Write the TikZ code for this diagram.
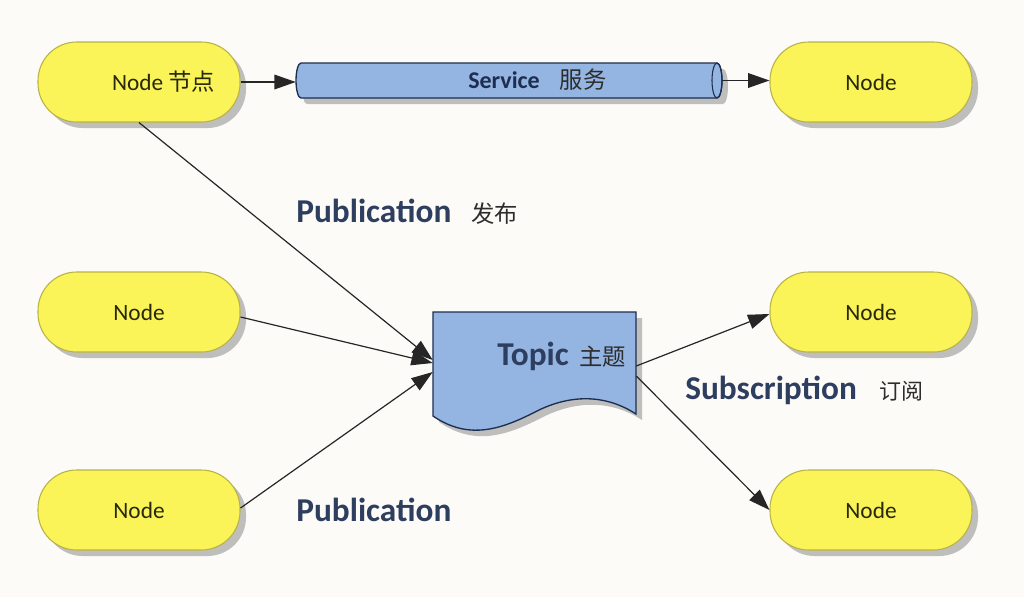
\documentclass[tikz,border=0pt]{standalone}
\usepackage{fontspec}
\setmainfont{Carlito}
\newfontfamily\cjk{Noto Sans CJK SC}
\usetikzlibrary{shadows,arrows.meta,calc}
\definecolor{bgc}{RGB}{253,251,248}
\definecolor{yfill}{RGB}{250,244,88}
\definecolor{ydraw}{RGB}{185,178,70}
\definecolor{bfill}{RGB}{148,180,226}
\definecolor{bdraw}{RGB}{30,45,80}
\definecolor{lblc}{RGB}{45,62,95}
\definecolor{cjkc}{RGB}{45,45,45}
\definecolor{ntxt}{RGB}{40,40,10}
\begin{document}
\begin{tikzpicture}[x=0.75pt,y=-0.75pt,
  shad/.style={drop shadow={shadow xshift=4.5pt,shadow yshift=-4.5pt,fill=black!45,opacity=0.55}},
  nodebox/.style={draw=ydraw,line width=0.8pt,fill=yfill,rounded corners=29pt,
    minimum width=151.5pt,minimum height=60pt,inner sep=0pt,shad,
    font=\fontsize{17.5}{17.5}\selectfont,text=ntxt},
  lbl/.style={anchor=west,inner sep=0pt,font=\bfseries\fontsize{25}{25}\selectfont,text=lblc},
  conn/.style={line width=0.9pt,draw=black!85,-{Triangle[length=16pt,width=11pt]}},
  ghost/.style={inner sep=0pt,draw=none}]
\useasboundingbox[fill=bgc] (0,0) rectangle (1024,597);

% Service cylinder
\path[fill=bfill,draw=bdraw,line width=1pt,shad] (301,63) -- (717,63)
  arc[start angle=90,end angle=-90,x radius=3.75pt,y radius=13.125pt]
  -- (301,98) arc[start angle=270,end angle=90,x radius=3.75pt,y radius=13.125pt] -- cycle;
\draw[bdraw,line width=0.8pt] (717,80.5) ellipse[x radius=3.75pt,y radius=13.125pt];
\node[ghost,minimum width=319.5pt,minimum height=26.25pt] (service) at (509,80.5) {};
\node[ghost,anchor=west] (servicetxt) at (468,80)
  {\bfseries\fontsize{18}{18}\selectfont\color{bdraw}Service\hspace{15pt}{\cjk\mdseries\fontsize{17.5}{17.5}\selectfont\color{cjkc}服务}};

% Topic document shape
\path[fill=bfill,draw=bdraw,line width=1pt,shad]
  (433,312) -- (636,312) -- (636,414)
  .. controls (605,394) and (570,394) .. (535,412)
  .. controls (500,430) and (468,440) .. (433,416) -- cycle;
\node[ghost,minimum width=152.25pt,minimum height=90pt] (topic) at (534.5,372) {};
\node[lbl] (topictxt) at (497,356) {Topic\hspace{8pt}{\cjk\mdseries\fontsize{17.5}{17.5}\selectfont\color{cjkc}主题}};

% Nodes
\node[nodebox] (n1) at (139,82) {\hspace*{37pt}Node {\cjk\fontsize{17.5}{17.5}\selectfont 节点}};
\node[nodebox] (n2) at (871,82) {Node};
\node[nodebox] (n3) at (139,312) {Node};
\node[nodebox] (n4) at (139,510) {Node};
\node[nodebox] (n5) at (871,312) {Node};
\node[nodebox] (n6) at (871,510) {Node};

% Labels
\node[lbl] (pub1) at (296,212) {Publication\hspace{15pt}{\cjk\mdseries\fontsize{17.5}{17.5}\selectfont\color{cjkc}发布}};
\node[lbl] (pub2) at (296,510) {Publication};
\node[lbl] (sub) at (685,390) {Subscription\hspace{17pt}{\cjk\mdseries\fontsize{16.5}{16.5}\selectfont\color{cjkc}订阅}};

% Connector coordinates
\coordinate (tA) at ($(topic.west)+(0,-12)$);
\coordinate (tB) at ($(topic.west)+(0,-9)$);
\coordinate (tC) at ($(topic.west)+(0,0)$);
\coordinate (tD) at ($(topic.east)+(0,-6)$);
\coordinate (tE) at ($(topic.east)+(0,4)$);
\coordinate (sE) at ($(service.east)+(0,0)$);

% Connectors
\draw[conn] (n1.east) -- (n1.east -| service.west);
\draw[conn] (sE) -- (sE -| n2.west);
\draw[conn] (n1.south) -- (tA);
\draw[conn] ($(n3.east)+(0,5)$) -- (tB);
\draw[conn] ($(n4.east)+(0,-2)$) -- (tC);
\draw[conn] (tD) -- ($(n5.west)+(0,2)$);
\draw[conn] (tE) -- (n6.west);
\end{tikzpicture}
\end{document}
